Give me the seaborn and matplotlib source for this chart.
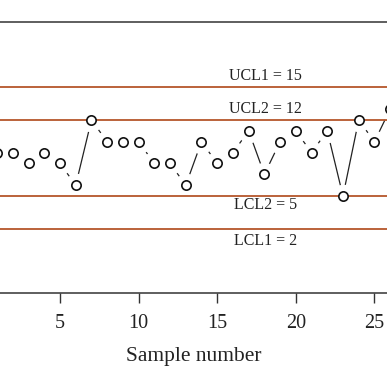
import matplotlib
matplotlib.use("Agg")
import matplotlib.pyplot as plt
import seaborn as sns
import pandas as pd

sample = list(range(1, 27))
values = [9, 9, 8, 9, 8, 6, 12, 10, 10, 10, 8, 8, 6, 10, 8, 9, 11, 7, 10, 11, 9, 11, 5, 12, 10, 13]
limit_names = ["UCL1 = 15", "UCL2 = 12", "LCL2 = 5", "LCL1 = 2"]
limit_values = [15, 12, 5, 2]
limit_label_offsets = [1.05, 1.0, -0.85, -1.15]
x_ticks = [5, 10, 15, 20, 25]

sns.set_theme(style="white")
plt.rcParams["font.family"] = ["Liberation Serif", "DejaVu Serif"]

df = pd.DataFrame({"Sample number": sample, "value": values})

fig = plt.figure(figsize=(3.87, 3.87), dpi=100)
ax = fig.add_axes([0.0, 0.242, 1.0, 0.701])

limit_color = "#B5562B"
for name, v, off in zip(limit_names, limit_values, limit_label_offsets):
    ax.axhline(v, color=limit_color, lw=1.3, zorder=3.5)
    ax.text(18.05, v + off, name, ha="center", va="center", fontsize=11.5, color="#222222")

sns.lineplot(data=df, x="Sample number", y="value", ax=ax, color="#222222",
             lw=0.9, zorder=2)
# white halo to create gaps around markers
ax.plot(df["Sample number"], df["value"], ls="none", marker="o", ms=17,
        mfc="white", mec="none", zorder=3)
sns.scatterplot(data=df, x="Sample number", y="value", ax=ax, s=45,
                facecolor="white", edgecolor="#111111", linewidth=1.2, zorder=4)

ax.set_xlim(1.183, 25.80)
ax.set_ylim(-3.96, 21.02)
ax.set_xticks(x_ticks)
ax.set_xticklabels([str(t) for t in x_ticks], fontsize=14.5, color="#222222")
ax.set_yticks([])
ax.set_ylabel("")
ax.set_xlabel("Sample number", fontsize=15.5, color="#222222", labelpad=10)
ax.tick_params(axis="x", direction="out", length=7, width=1.0, color="#333333", pad=8,
               bottom=True)
for side in ["left", "right"]:
    ax.spines[side].set_visible(False)
for side in ["top", "bottom"]:
    ax.spines[side].set_visible(True)
    ax.spines[side].set_color("#333333")
    ax.spines[side].set_linewidth(1.1)

fig.savefig("out.png", dpi=100)
